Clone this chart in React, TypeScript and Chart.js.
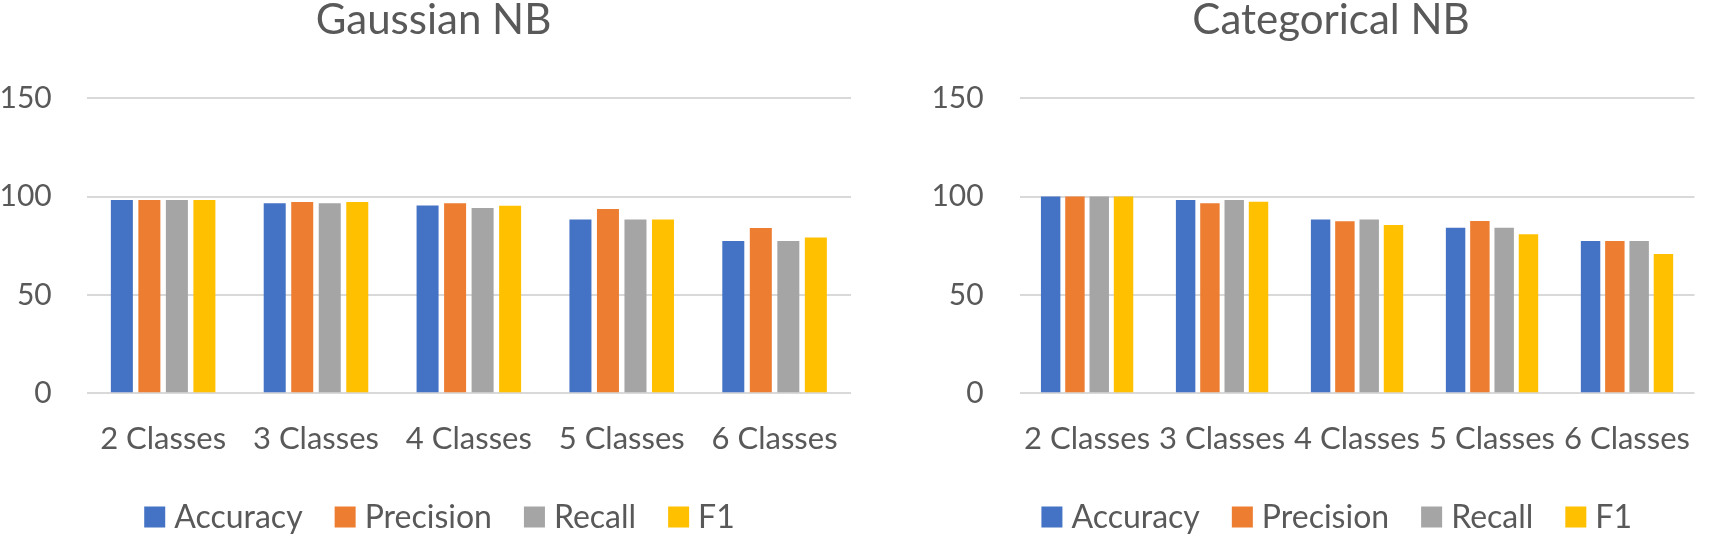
import React, { useEffect, useRef } from "react";
import { Chart, registerables } from "chart.js";

Chart.register(...registerables);

// Category axis and series
const categories = ["2 Classes", "3 Classes", "4 Classes", "5 Classes", "6 Classes"];
const seriesNames = ["Accuracy", "Precision", "Recall", "F1"];
const seriesColors = ["#4472C4", "#ED7D31", "#A5A5A5", "#FFC000"];

// Gaussian NB scores (%)
const gaussianAccuracy = [98.3, 96.6, 95.4, 88.4, 77.4];
const gaussianPrecision = [98.3, 97.3, 96.6, 93.7, 84.0];
const gaussianRecall = [98.3, 96.6, 94.2, 88.4, 77.4];
const gaussianF1 = [98.3, 97.3, 95.3, 88.4, 79.2];

// Categorical NB scores (%)
const categoricalAccuracy = [100, 98.3, 88.4, 84.1, 77.4];
const categoricalPrecision = [100, 96.6, 87.4, 87.6, 77.4];
const categoricalRecall = [100, 98.3, 88.4, 84.1, 77.4];
const categoricalF1 = [100, 97.4, 85.5, 80.8, 70.8];

// Value axis
const yMin = 0;
const yMax = 150;
const yStep = 50;

const FONT = "Lato";
const TEXT_COLOR = "#595959";
const GRID_COLOR = "#D9D9D9";

// Title across the top and a legend along the bottom edge
// (square swatch, short gap, label), each centred on its own x.
const panelText = {
  id: "panelText",
  afterDraw(chart: any) {
    const o = chart.options.plugins.panelText || {};
    const ctx = chart.ctx;
    ctx.save();

    // title
    ctx.font = `${o.titleSize}px ${FONT}`;
    ctx.fillStyle = TEXT_COLOR;
    ctx.textAlign = "center";
    ctx.textBaseline = "alphabetic";
    ctx.fillText(o.title, o.titleX, o.titleBaseline);

    // legend
    const size = o.legendSize;
    const box = o.box;
    const gap = o.gap;
    const itemGap = o.itemGap;
    ctx.font = `${size}px ${FONT}`;
    const items = chart.data.datasets.map((ds: any) => ({
      text: ds.label as string,
      color: ds.backgroundColor as string,
      w: ctx.measureText(ds.label).width,
    }));
    const total =
      items.reduce((s: number, it: any) => s + box + gap + it.w, 0) + itemGap * (items.length - 1);
    let x = o.legendX - total / 2;
    const cy = chart.height - o.legendFromBottom;
    ctx.textBaseline = "middle";
    ctx.textAlign = "left";
    for (const it of items) {
      ctx.fillStyle = it.color;
      ctx.fillRect(x, cy - box / 2, box, box);
      ctx.fillStyle = TEXT_COLOR;
      ctx.fillText(it.text, x + box + gap, cy + 1);
      x += box + gap + it.w + itemGap;
    }
    ctx.restore();
  },
};

type PanelProps = {
  title: string;
  series: number[][];
  left: number;
  width: number;
  padRight: number;
  axisWidth: number;
  tickGap: number;
  titleX: number;
  legendX: number;
};

function ScorePanel({ title, series, left, width, padRight, axisWidth, tickGap, titleX, legendX }: PanelProps) {
  const ref = useRef<HTMLCanvasElement>(null);

  useEffect(() => {
    if (!ref.current) return;
    const chart = new Chart(ref.current, {
      type: "bar",
      data: {
        labels: categories,
        datasets: seriesNames.map((name, i) => ({
          label: name,
          data: series[i],
          backgroundColor: seriesColors[i],
          borderWidth: 0,
          categoryPercentage: 0.72,
          barPercentage: 0.8,
        })),
      },
      plugins: [panelText],
      options: {
        responsive: false,
        animation: false,
        layout: { padding: { left: 0, right: padRight, top: 98.2, bottom: 53.3 } },
        plugins: {
          legend: { display: false },
          title: { display: false },
          tooltip: { enabled: false },
          panelText: {
            title,
            titleX,
            titleBaseline: 34,
            titleSize: 42,
            legendX,
            legendFromBottom: 20,
            legendSize: 32,
            box: 21,
            gap: 9,
            itemGap: 32,
          },
        } as any,
        scales: {
          x: {
            grid: { display: false, drawTicks: false },
            border: { display: false },
            ticks: {
              autoSkip: false,
              maxRotation: 0,
              minRotation: 0,
              padding: 26.6,
              color: TEXT_COLOR,
              font: { family: FONT, size: 31, lineHeight: 1.2 },
            },
          },
          y: {
            min: yMin,
            max: yMax,
            afterFit: (s: any) => {
              s.width = axisWidth;
            },
            grid: { color: GRID_COLOR, lineWidth: 2, drawTicks: false },
            border: { display: false },
            ticks: {
              stepSize: yStep,
              padding: tickGap,
              color: TEXT_COLOR,
              font: { family: FONT, size: 30 },
            },
          },
        },
      },
    });
    return () => chart.destroy();
  }, []);

  return (
    <div style={{ position: "absolute", left, top: 0, width, height: 537 }}>
      <canvas ref={ref} width={width} height={537} style={{ display: "block" }} />
    </div>
  );
}

export default function App() {
  return (
    <div
      style={{
        position: "absolute",
        left: 0,
        top: 0,
        width: 1717,
        height: 537,
        background: "#ffffff",
        overflow: "hidden",
      }}
    >
      <ScorePanel
        title="Gaussian NB"
        series={[gaussianAccuracy, gaussianPrecision, gaussianRecall, gaussianF1]}
        left={0}
        width={872}
        padRight={21}
        axisWidth={86.7}
        tickGap={35}
        titleX={433.5}
        legendX={439.5}
      />
      <ScorePanel
        title="Categorical NB"
        series={[categoricalAccuracy, categoricalPrecision, categoricalRecall, categoricalF1]}
        left={880}
        width={837}
        padRight={4}
        axisWidth={139.6}
        tickGap={36}
        titleX={451}
        legendX={456.7}
      />
    </div>
  );
}
